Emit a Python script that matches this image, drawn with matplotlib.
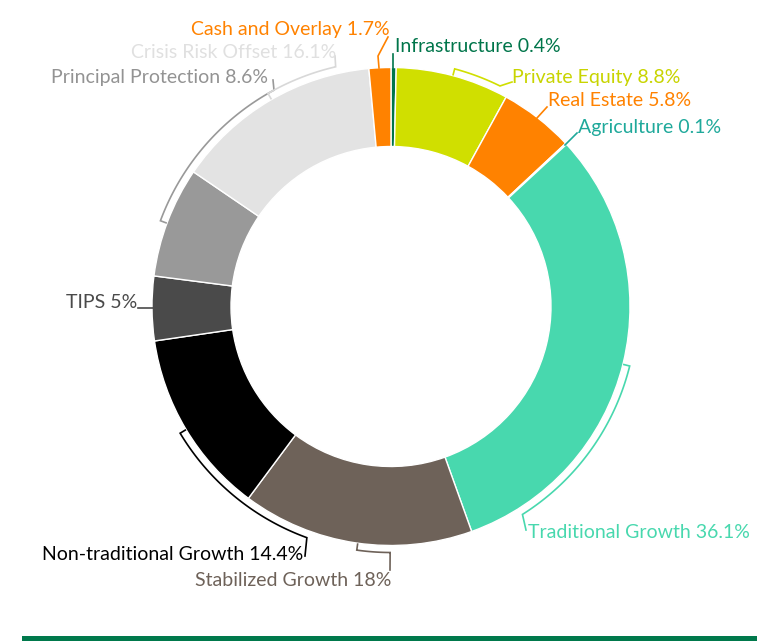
import numpy as np
import matplotlib
matplotlib.use("Agg")
import matplotlib.pyplot as plt
from matplotlib.patches import Rectangle

# slices, clockwise from 12 o'clock
labels = ['Infrastructure', 'Private Equity', 'Real Estate', 'Agriculture',
          'Traditional Growth', 'Stabilized Growth', 'Non-traditional Growth',
          'TIPS', 'Principal Protection', 'Crisis Risk Offset', 'Cash and Overlay']
values = [0.4, 8.8, 5.8, 0.1, 36.1, 18, 14.4, 5, 8.6, 16.1, 1.7]
value_text = ['0.4%', '8.8%', '5.8%', '0.1%', '36.1%', '18%', '14.4%',
              '5%', '8.6%', '16.1%', '1.7%']
colors = ['#00754A', '#D0DF00', '#FF8200', '#1FA99B', '#48D8AE', '#6E6259',
          '#000000', '#4A4A4A', '#999999', '#E3E3E3', '#FF8200']
text_colors = ['#00754A', '#C8D400', '#FF8200', '#1FA99B', '#48D8AE', '#6E6259',
               '#000000', '#4A4A4A', '#939393', '#E0E0E0', '#FF8200']

W, H = 773, 643
CX, CY, R, RIN = 391, 306.5, 239, 160

plt.rcParams['font.family'] = ['Lato', 'DejaVu Sans']

fig = plt.figure(figsize=(W / 100, H / 100), dpi=100)
ax = fig.add_axes([0, 0, 1, 1])


def py(y):
    # pixel row -> data y
    return H - y


def polar(r, a):
    # a: degrees clockwise from top
    t = np.radians(a)
    return CX + r * np.sin(t), py(CY - r * np.cos(t))


ax.pie(values, colors=colors, startangle=90, counterclock=False,
       radius=R, center=(CX, py(CY)), frame=True,
       wedgeprops=dict(width=R - RIN, edgecolor='white', linewidth=1))
ax.set_xlim(0, W)
ax.set_ylim(0, H)
ax.axis('off')

# label placement: (x, y, ha) in pixels
label_pos = {
    'Infrastructure': (395, 46, 'left'),
    'Private Equity': (512, 77, 'left'),
    'Real Estate': (548, 100, 'left'),
    'Agriculture': (578, 127, 'left'),
    'Traditional Growth': (528, 533, 'left'),
    'Stabilized Growth': (391, 581, 'right'),
    'Non-traditional Growth': (303, 555, 'right'),
    'TIPS': (137, 302, 'right'),
    'Principal Protection': (268, 77, 'right'),
    'Crisis Risk Offset': (336, 52, 'right'),
    'Cash and Overlay': (390, 30, 'right'),
}

for i, name in enumerate(labels):
    x, y, ha = label_pos[name]
    ax.text(x, py(y), f'{name} {value_text[i]}', color=text_colors[i],
            fontsize=14, ha=ha, va='center')

# brackets: tick angle, connector-end angle, connector end pixel
RB = 246
brackets = {
    'Private Equity': (15, 26.3, [(512, 82)]),
    'Traditional Growth': (104, 147.7, [(526, 530)]),
    'Stabilized Growth': (188, 180.2, [(390, 570)]),
    'Non-traditional Growth': (239, 200, [(305, 556)]),
    'Principal Protection': (290.4, 331.6, [(273, 80)]),
    'Crisis Risk Offset': (330, 347, [(335, 56)]),
}
for name, (a0, a1, conn) in brackets.items():
    c = colors[labels.index(name)]
    if name == 'Crisis Risk Offset':
        c = '#D8D8D8'
    arc = np.linspace(a0, a1, 80)
    pts = [polar(R + 1, a0)] + [polar(RB, a) for a in arc]
    pts += [(x, py(y)) for x, y in conn]
    xs, ys = zip(*pts)
    ax.plot(xs, ys, color=c, lw=1.2, solid_joinstyle='miter')

# plain connectors
connectors = {
    'Infrastructure': [(393, 68), (393, 54)],
    'Real Estate': [(537, 118), (547, 107)],
    'Agriculture': [(565, 145), (577, 133)],
    'Cash and Overlay': [(379, 68), (378, 56), (388, 37)],
    'TIPS': [(153, 308), (138, 308)],
}
for name, pts in connectors.items():
    c = colors[labels.index(name)]
    xs = [p[0] for p in pts]
    ys = [py(p[1]) for p in pts]
    ax.plot(xs, ys, color=c, lw=1.2)

ax.add_patch(Rectangle((22, py(641)), 735, 5, color='#00794C', lw=0))

fig.savefig('out.png', dpi=100)
